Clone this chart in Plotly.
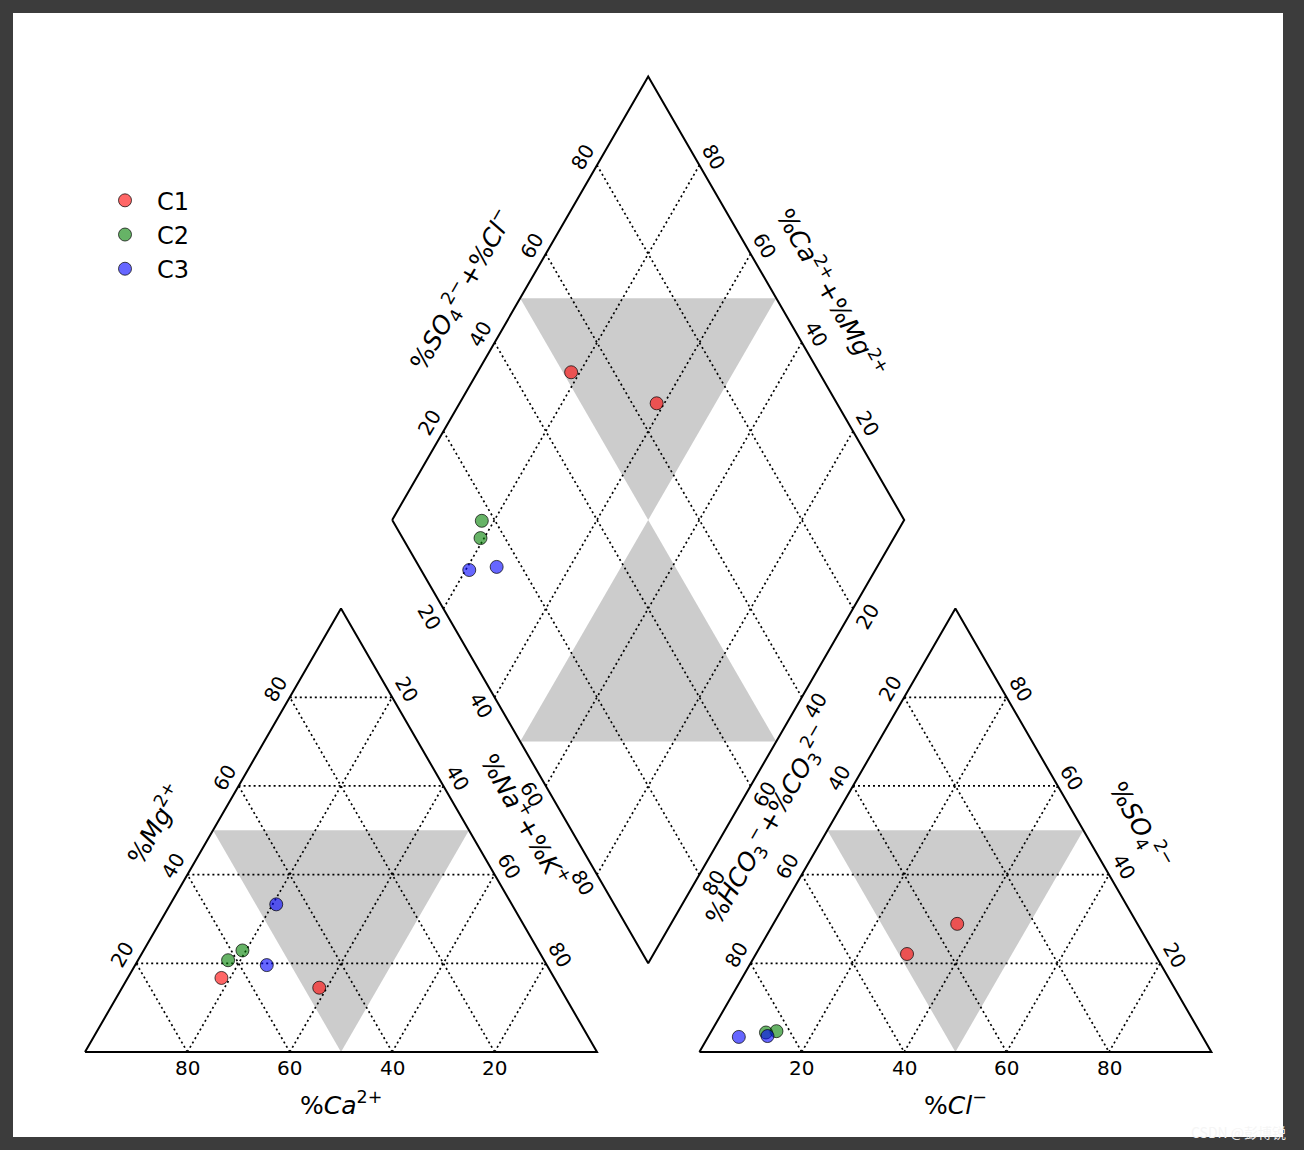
import math
import plotly.graph_objects as go

# ---------------- data (percent of meq) ----------------
sample_group = ["C1", "C1", "C2", "C2", "C3", "C3"]
ca_pct = [65.0, 47.0, 61.7, 57.8, 46.0, 54.7]
mg_pct = [16.7, 14.5, 20.7, 22.9, 33.3, 19.6]
cl_pct = [29.5, 35.9, 12.7, 10.8, 6.0, 11.5]
so4_pct = [22.1, 28.9, 4.7, 4.4, 3.4, 3.6]
groups = ["C1", "C2", "C3"]
tick_values = [20, 40, 60, 80]

# ---------------- style ----------------
group_fill = {"C1": "rgba(255,0,0,0.6)", "C2": "rgba(0,128,0,0.6)", "C3": "rgba(0,0,255,0.6)"}
FONT = "DejaVu Sans"
GRAY = "rgb(204,204,204)"
TICK_SIZE = 20
TITLE_SIZE = 25

H = math.sqrt(3) / 2
OFF = 1.2


def cat_xy(ca, mg):
    return 1 - ca / 100 - mg / 200, mg / 100 * H


def an_xy(cl, so4):
    return OFF + cl / 100 + so4 / 200, so4 / 100 * H


def dia_xy(nak, sc):
    n, s = nak / 100, sc / 100
    return 0.6 + 0.5 * (n + s), 1.2 * H + H * (s - n)


fig = go.Figure()


def poly(points, **kw):
    xs = [p[0] for p in points]
    ys = [p[1] for p in points]
    fig.add_trace(go.Scatter(x=xs, y=ys, showlegend=False, hoverinfo="skip", **kw))


# gray zones (all components <= 50 %)
poly([cat_xy(50, 50), cat_xy(0, 50), cat_xy(50, 0), cat_xy(50, 50)],
     mode="lines", fill="toself", fillcolor=GRAY, line=dict(width=0, color=GRAY))
poly([an_xy(0, 50), an_xy(50, 50), an_xy(50, 0), an_xy(0, 50)],
     mode="lines", fill="toself", fillcolor=GRAY, line=dict(width=0, color=GRAY))
poly([dia_xy(0, 50), dia_xy(50, 100), dia_xy(50, 50), dia_xy(0, 50)],
     mode="lines", fill="toself", fillcolor=GRAY, line=dict(width=0, color=GRAY))
poly([dia_xy(50, 0), dia_xy(100, 50), dia_xy(50, 50), dia_xy(50, 0)],
     mode="lines", fill="toself", fillcolor=GRAY, line=dict(width=0, color=GRAY))

# dotted grid
gx, gy = [], []


def seg(a, b):
    gx.extend([a[0], b[0], None])
    gy.extend([a[1], b[1], None])


for v in tick_values:
    seg(cat_xy(100 - v, v), cat_xy(0, v))
    seg(cat_xy(v, 0), cat_xy(v, 100 - v))
    seg(cat_xy(100 - v, 0), cat_xy(0, 100 - v))
    seg(an_xy(0, v), an_xy(100 - v, v))
    seg(an_xy(v, 0), an_xy(v, 100 - v))
    seg(an_xy(0, 100 - v), an_xy(100 - v, 0))
    seg(dia_xy(v, 0), dia_xy(v, 100))
    seg(dia_xy(0, v), dia_xy(100, v))
fig.add_trace(go.Scatter(x=gx, y=gy, mode="lines", showlegend=False, hoverinfo="skip",
                         line=dict(color="black", width=1.7, dash="2px,3px")))

# outlines
ox, oy = [], []
for shape in (
    [cat_xy(100, 0), cat_xy(0, 0), cat_xy(0, 100), cat_xy(100, 0)],
    [an_xy(0, 0), an_xy(100, 0), an_xy(0, 100), an_xy(0, 0)],
    [dia_xy(0, 0), dia_xy(0, 100), dia_xy(100, 100), dia_xy(100, 0), dia_xy(0, 0)],
):
    for p in shape:
        ox.append(p[0])
        oy.append(p[1])
    ox.append(None)
    oy.append(None)
fig.add_trace(go.Scatter(x=ox, y=oy, mode="lines", showlegend=False, hoverinfo="skip",
                         line=dict(color="black", width=2)))

# samples
for g in groups:
    xs, ys = [], []
    idx = [i for i, s in enumerate(sample_group) if s == g]
    for i in idx:
        p = cat_xy(ca_pct[i], mg_pct[i])
        xs.append(p[0]); ys.append(p[1])
    for i in idx:
        p = an_xy(cl_pct[i], so4_pct[i])
        xs.append(p[0]); ys.append(p[1])
    for i in idx:
        nak = 100 - ca_pct[i] - mg_pct[i]
        sc = cl_pct[i] + so4_pct[i]
        p = dia_xy(nak, sc)
        xs.append(p[0]); ys.append(p[1])
    fig.add_trace(go.Scatter(x=xs, y=ys, mode="markers", name=g, legendgroup=g,
                             marker=dict(size=13, color=group_fill[g],
                                         line=dict(color="rgba(0,0,0,0.7)", width=1))))

# ---------------- labels ----------------
ann = []
D = 0.032


def label(pt, normal, text, angle, size=TICK_SIZE, d=D):
    ann.append(dict(x=pt[0] + normal[0] * d, y=pt[1] + normal[1] * d, text=text,
                    textangle=angle, showarrow=False, xanchor="center", yanchor="middle",
                    font=dict(family=FONT, size=size, color="black")))


NL = (-H, 0.5)
NR = (H, 0.5)
NLL = (-H, -0.5)
NLR = (H, -0.5)
ND = (0, -1)

for v in tick_values:
    t = str(v)
    # cation triangle
    label(cat_xy(v, 0), ND, t, 0)
    label(cat_xy(100 - v, v), NL, t, -60)
    label(cat_xy(0, 100 - v), NR, t, 60)
    # anion triangle
    label(an_xy(v, 0), ND, t, 0)
    label(an_xy(0, 100 - v), NL, t, -60)
    label(an_xy(100 - v, v), NR, t, 60)
    # diamond
    label(dia_xy(0, v), NL, t, -60)
    label(dia_xy(100 - v, 100), NR, t, 60)
    label(dia_xy(v, 0), NLL, t, 60)
    label(dia_xy(100, 100 - v), NLR, t, -60)


def edge_title(start, direction, t, normal, d, text, angle):
    p = (start[0] + direction[0] * t, start[1] + direction[1] * t)
    label(p, normal, text, angle, size=TITLE_SIZE, d=d)


edge_title(cat_xy(100, 0), (0.5, H), 0.455, NL, 0.105, "%<i>Mg</i><sup>2+</sup>", -60)
edge_title(cat_xy(0, 0), (-0.5, H), 0.463, NR, 0.105, "%<i>Na</i><sup>+</sup>+%<i>K</i><sup>+</sup>", 60)
label(cat_xy(50, 0), ND, "%<i>Ca</i><sup>2+</sup>", 0, size=TITLE_SIZE, d=0.0996)
edge_title(an_xy(0, 0), (0.5, H), 0.451, NL, 0.105,
           "%<i>HCO</i><sub>3</sub><sup>−</sup>+%<i>CO</i><sub>3</sub><sup>2−</sup>", -60)
edge_title(an_xy(100, 0), (-0.5, H), 0.454, NR, 0.10, "%<i>SO</i><sub>4</sub><sup>2−</sup>", 60)
label(an_xy(50, 0), ND, "%<i>Cl</i><sup>−</sup>", 0, size=TITLE_SIZE, d=0.0996)
edge_title(dia_xy(0, 0), (0.5, H), 0.457, NL, 0.1066,
           "%<i>SO</i><sub>4</sub><sup>2−</sup>+%<i>Cl</i><sup>−</sup>", -60)
edge_title(dia_xy(100, 100), (-0.5, H), 0.456, NR, 0.10,
           "%<i>Ca</i><sup>2+</sup>+%<i>Mg</i><sup>2+</sup>", 60)

ann.append(dict(xref="paper", yref="paper", x=0.9646, y=0.0044, text="CSDN @彭博锐",
                showarrow=False, xanchor="center", yanchor="middle",
                font=dict(family="Noto Sans CJK SC", size=14, color="rgba(245,245,245,0.95)")))

L, R, T, B = 13, 21, 13, 13
W, HH = 1304, 1150
SCALE = 512.0
X0PX, Y0PX = 85.0, 1052.0
x0 = (L - X0PX) / SCALE
x1 = (W - R - X0PX) / SCALE
ytop = (Y0PX - T) / SCALE
ybot = (Y0PX - (HH - B)) / SCALE

fig.update_layout(
    width=W, height=HH,
    margin=dict(l=L, r=R, t=T, b=B, pad=0),
    paper_bgcolor="#3c3c3c", plot_bgcolor="white",
    xaxis=dict(range=[x0, x1], visible=False, fixedrange=True),
    yaxis=dict(range=[ybot, ytop], visible=False, fixedrange=True),
    annotations=ann,
    showlegend=True,
    legend=dict(x=0.063, y=0.853, xanchor="left", yanchor="top", bgcolor="rgba(0,0,0,0)",
                font=dict(family=FONT, size=24, color="black"), tracegroupgap=0,
                itemwidth=54),
)

fig.write_html(
    "out.html",
    config={"displayModeBar": False},
    post_script="document.body.style.margin='0';document.body.style.overflow='hidden';"
                "document.body.style.background='#3c3c3c';",
)
